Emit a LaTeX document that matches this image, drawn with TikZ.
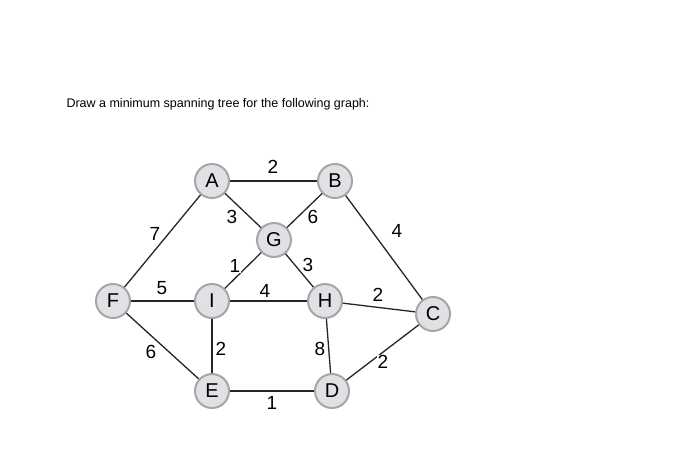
\documentclass[tikz,border=0pt]{standalone}
\usepackage{fontspec}
\setmainfont{Liberation Sans}
\begin{document}
\begin{tikzpicture}[x=1pt,y=-1pt,
  vert/.style={circle,draw=gray!70,line width=2pt,fill=blue!8!gray!22,minimum size=34pt,inner sep=0pt,font=\fontsize{20}{20}\selectfont},
  edge/.style={draw=black!85,line width=1.3pt},
  wl/.style={font=\fontsize{19}{19}\selectfont,fill=white,inner sep=0.5pt}]
\useasboundingbox (0,0) rectangle (700,467);
\fill[white] (0,0) rectangle (700,467);
\node[anchor=west,font=\fontsize{12.5}{13}\selectfont] (title) at (63,104) {Draw a minimum spanning tree for the following graph:};
\node[vert] (A) at (212,181) {A};
\node[vert] (B) at (335,181) {B};
\node[vert] (G) at (274,240) {G};
\node[vert] (F) at (113,301) {F};
\node[vert] (I) at (212,301) {I};
\node[vert] (H) at (325,301) {H};
\node[vert] (C) at (433,314) {C};
\node[vert] (E) at (212,391) {E};
\node[vert] (D) at (332,391) {D};
\draw[edge] (A) -- (B);
\draw[edge] (A) -- (G);
\draw[edge] (G) -- (B);
\draw[edge] (B) -- (C);
\draw[edge] (A) -- (F);
\draw[edge] (G) -- (I);
\draw[edge] (G) -- (H);
\draw[edge] (F) -- (I);
\draw[edge] (I) -- (H);
\draw[edge] (H) -- (C);
\draw[edge] (F) -- (E);
\draw[edge] (I) -- (E);
\draw[edge] (H) -- (D);
\draw[edge] (D) -- (C);
\draw[edge] (E) -- (D);
\node[wl] (l1) at (273,167) {2};
\node[wl] (l2) at (232,217) {3};
\node[wl] (l3) at (313,217) {6};
\node[wl] (l4) at (397,231) {4};
\node[wl] (l5) at (155,234) {7};
\node[wl] (l6) at (235,266) {1};
\node[wl] (l7) at (308,265) {3};
\node[wl] (l8) at (162,288) {5};
\node[wl] (l9) at (265,291) {4};
\node[wl] (l10) at (378,295) {2};
\node[wl] (l11) at (151,352) {6};
\node[wl] (l12) at (221,349) {2};
\node[wl] (l13) at (320,349) {8};
\node[wl] (l14) at (383,362) {2};
\node[wl] (l15) at (272,403) {1};
\end{tikzpicture}
\end{document}
